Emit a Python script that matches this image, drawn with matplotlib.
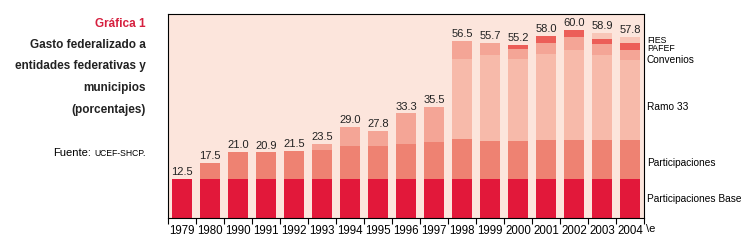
import numpy as np
import matplotlib
matplotlib.use("Agg")
import matplotlib.pyplot as plt

plt.rcParams['font.family'] = ['Liberation Sans', 'DejaVu Sans']

years = ["1979", "1980", "1990", "1991", "1992", "1993", "1994", "1995", "1996",
         "1997", "1998", "1999", "2000", "2001", "2002", "2003", "2004"]
totals = [12.5, 17.5, 21.0, 20.9, 21.5, 23.5, 29.0, 27.8, 33.3,
          35.5, 56.5, 55.7, 55.2, 58.0, 60.0, 58.9, 57.8]

# components (stacked bottom to top)
part_base = [12.5] * 17
participaciones = [0.0, 5.0, 8.5, 8.4, 9.0, 9.2, 10.6, 10.6, 11.1,
                   11.8, 12.7, 12.1, 12.1, 12.4, 12.4, 12.4, 12.4]
ramo33 = [0, 0, 0, 0, 0, 0, 0, 0, 0,
          0, 25.6, 27.2, 26.2, 27.5, 28.5, 26.9, 25.3]
convenios = [0, 0, 0, 0, 0, 1.8, 5.9, 4.7, 9.7,
             11.2, 5.7, 3.9, 3.2, 3.5, 4.2, 3.5, 3.2]
pafef = [0, 0, 0, 0, 0, 0, 0, 0, 0,
         0, 0, 0, 1.2, 2.1, 2.4, 1.6, 2.3]
fies = [0, 0, 0, 0, 0, 0, 0, 0, 0,
        0, 0, 0, 0, 0, 0, 2.0, 2.1]

series = [part_base, participaciones, ramo33, convenios, pafef, fies]
colors = ["#E2183A", "#EE8272", "#F7BAAA", "#F4A596", "#EC5E58", "#F8C6B8"]

fig = plt.figure(figsize=(7.49, 2.5), dpi=100)
ax = fig.add_axes([0.224, 0.128, 0.636, 0.816])
ax.set_facecolor("#FCE5DC")

x = np.arange(len(years))
bottom = np.zeros(len(years))
for vals, c in zip(series, colors):
    vals = np.array(vals)
    ax.bar(x, vals, bottom=bottom, width=0.72, color=c, linewidth=0)
    bottom += vals

for xi, t in zip(x, totals):
    ax.text(xi, t + 0.6, f"{t:.1f}", ha="center", va="bottom", fontsize=8, color="#222222")

ax.set_xlim(-0.5, len(years) - 0.5)
ax.set_ylim(0, 65)
ax.set_yticks([])
ax.set_xticks(np.arange(-0.5, len(years)), minor=False)
ax.set_xticklabels([])
ax.set_xticks(x, minor=True)
ax.set_xticklabels(years, minor=True, fontsize=8.3)
ax.tick_params(axis="x", which="major", length=4, width=0.8, direction="out")
ax.tick_params(axis="x", which="minor", length=0, pad=5)
for s in ax.spines.values():
    s.set_linewidth(0.8)
ax.text(len(years) - 0.45, -3.6, "\\e", fontsize=8, ha="left", va="center")

# right-hand labels
rlabels = [("FIES", 56.5, 6.3), ("PAFEF", 54.0, 6.3), ("Convenios", 50.5, 7.3),
           ("Ramo 33", 35.5, 7.3), ("Participaciones", 17.6, 7.3),
           ("Participaciones Base", 6.1, 7.3)]
for txt, yv, fs in rlabels:
    ax.text(len(years) - 0.4, yv, txt, fontsize=fs, ha="left", va="center")

# left-hand title block
fig.text(0.195, 0.905, "Gráfica 1", color="#D6203F", fontsize=8.5, fontweight="bold", ha="right", va="center")
for yy, line in zip([0.82, 0.735, 0.648, 0.562],
                    ["Gasto federalizado a", "entidades federativas y", "municipios", "(porcentajes)"]):
    fig.text(0.195, yy, line, fontsize=8.5, fontweight="bold", ha="right", va="center", color="#222222")
fig.text(0.121, 0.388, "Fuente:", fontsize=8, ha="right", va="center")
fig.text(0.195, 0.388, "UCEF-SHCP.", fontsize=6.2, ha="right", va="center")

fig.savefig("out.png", dpi=100)
